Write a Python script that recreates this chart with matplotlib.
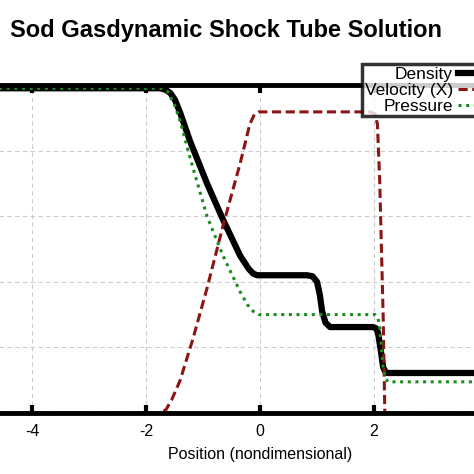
import matplotlib
matplotlib.use("Agg")
import matplotlib.pyplot as plt

dens_x = [-5, -2.11, -1.75, -1.65, -1.57, -1.49, -1.40, -1.23, -0.93, -0.65, -0.35, -0.20, -0.12, -0.05, 0.0, 0.82, 0.92, 1.0, 1.05, 1.09, 1.15, 1.23, 1.98, 2.04, 2.07, 2.12, 2.16, 2.20, 2.23, 5]
dens_y = [0.99, 0.99, 0.99, 0.985, 0.975, 0.954, 0.915, 0.83, 0.70, 0.59, 0.48, 0.44, 0.425, 0.42, 0.42, 0.42, 0.417, 0.40, 0.36, 0.31, 0.275, 0.262, 0.262, 0.258, 0.245, 0.19, 0.14, 0.125, 0.122, 0.122]
pres_x = [-5, -1.75, -1.62, -1.50, -1.40, -1.23, -0.93, -0.65, -0.35, -0.22, -0.12, -0.02, 2.02, 2.07, 2.10, 2.16, 2.20, 2.25, 5]
pres_y = [0.99, 0.99, 0.98, 0.94, 0.89, 0.78, 0.60, 0.48, 0.37, 0.33, 0.31, 0.30, 0.30, 0.29, 0.26, 0.14, 0.105, 0.095, 0.095]
vel_x = [-5, -1.75, -1.65, -1.55, -1.40, -1.17, -0.93, -0.65, -0.35, -0.25, -0.18, -0.10, -0.02, 1.93, 2.02, 2.06, 2.10, 2.16, 2.19, 5]
vel_y = [0, 0, 0.01, 0.04, 0.10, 0.23, 0.38, 0.57, 0.76, 0.83, 0.88, 0.91, 0.918, 0.918, 0.912, 0.88, 0.71, 0.30, 0.0, 0.0]
xticks = [-4, -2, 0, 2]

plt.rcParams['font.family'] = ['Liberation Sans', 'DejaVu Sans']
plt.rcParams['axes.unicode_minus'] = False
fig = plt.figure(figsize=(4.74, 4.74), dpi=100)
ax = fig.add_axes([-25/474, 61/474, 570/474, 328/474])
ax.plot(dens_x, dens_y, color='black', lw=4.5, label='Density', solid_joinstyle='round')
ax.plot(vel_x, vel_y, color='#8b1414', lw=2.2, ls=(0, (3, 1.5)), label='Velocity (X)')
ax.plot(pres_x, pres_y, color='#1e8a1e', lw=2.2, ls=(0, (1, 1.5)), label='Pressure')
ax.set_xlim(-5, 5)
ax.set_ylim(0, 1.0)
ax.set_xticks(xticks)
ax.set_yticks([0, 0.2, 0.4, 0.6, 0.8, 1.0])
ax.set_yticklabels([])
ax.grid(True, color='#cccccc', ls=(0, (4, 3)), lw=0.8)
for s in ax.spines.values():
    s.set_linewidth(3.5)
ax.tick_params(axis='x', direction='in', length=6, width=3, labelsize=11.5, pad=8, top=True)
ax.tick_params(axis='y', direction='in', length=6, width=3, right=True)
ax.set_xlabel('Position (nondimensional)', fontsize=11.5, labelpad=6)
fig.text(10/474, 1 - 30/474, 'Sod Gasdynamic Shock Tube Solution', fontsize=17,
         fontweight='bold', ha='left', va='center')
leg = fig.legend(loc='upper right', bbox_to_anchor=(530/474, 1 - 64/474), markerfirst=False,
                 fontsize=12.5, frameon=True, fancybox=False, handlelength=4,
                 borderpad=0.15, labelspacing=0.05, handletextpad=0.3, borderaxespad=0)
leg.get_frame().set_edgecolor('black')
leg.get_frame().set_linewidth(2.5)
leg.set_zorder(10)
fig.savefig('out.png', dpi=100)
